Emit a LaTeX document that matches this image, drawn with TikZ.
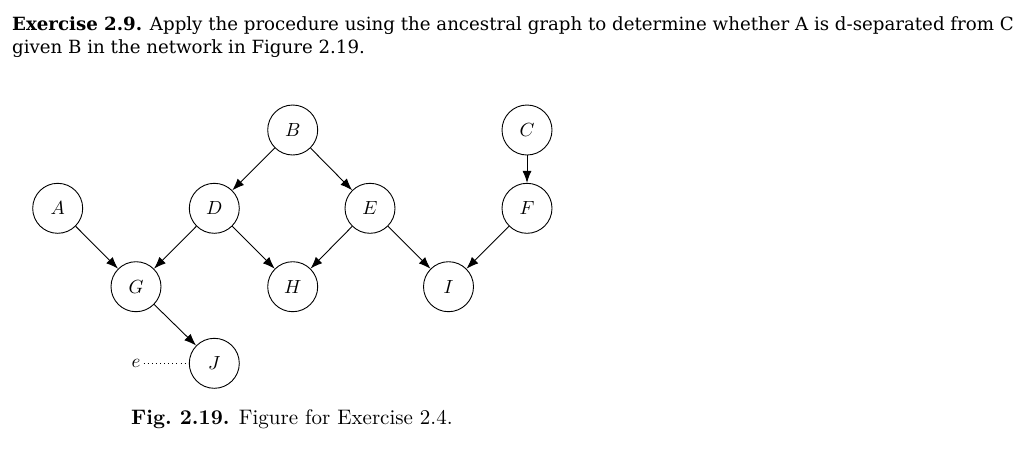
\documentclass[tikz,border=0pt]{standalone}
\usepackage{fontspec}
\setmainfont{DejaVu Serif}
\newfontfamily\capfont{Latin Modern Roman}
\usetikzlibrary{arrows.meta}
\newcommand{\lbl}[1]{\scalebox{1.9}{\fontsize{10}{12}\selectfont$#1$}}
\tikzset{
  var/.style={circle,draw,line width=0.9pt,minimum size=50pt,inner sep=0pt},
  edge/.style={line width=0.9pt,-{Latex[length=12pt,width=9pt]}},
  head/.style={anchor=base west,inner sep=0pt,font=\fontsize{18.2}{21}\selectfont}
}
\begin{document}
\begin{tikzpicture}[x=1pt,y=-1pt]
\useasboundingbox (0,0) rectangle (1024,448);
\node[head] (h1) at (12,30) {\textbf{Exercise 2.9.} Apply the procedure using the ancestral graph to determine whether A is d-separated from C};
\node[head] (h2) at (12,53.3) {given B in the network in Figure 2.19.};
\node[var] (B) at (292.7,130) {\lbl{B}};
\node[var] (C) at (527,130) {\lbl{C}};
\node[var] (A) at (57.7,208.3) {\lbl{A}};
\node[var] (D) at (214.3,208.3) {\lbl{D}};
\node[var] (E) at (370,208.3) {\lbl{E}};
\node[var] (F) at (527,208.3) {\lbl{F}};
\node[var] (G) at (136,286.7) {\lbl{G}};
\node[var] (H) at (292.7,286.7) {\lbl{H}};
\node[var] (I) at (448.5,286.7) {\lbl{I}};
\node[var] (J) at (214.3,363.3) {\lbl{J}};
\node[inner sep=3pt] (e) at (136,363.3) {\lbl{e}};
\draw[edge] (B) -- (D);
\draw[edge] (B) -- (E);
\draw[edge] (A) -- (G);
\draw[edge] (D) -- (G);
\draw[edge] (D) -- (H);
\draw[edge] (E) -- (H);
\draw[edge] (E) -- (I);
\draw[edge] (F) -- (I);
\draw[edge] (C) -- (F);
\draw[edge] (G) -- (J);
\draw[line width=0.9pt,dash pattern=on 0.9pt off 3.2pt] (e) -- (J);
\node[anchor=base west,inner sep=0pt] (cap) at (131,424) {\scalebox{2.10}{\capfont\fontsize{10}{12}\selectfont\textbf{Fig.\ 2.19.} Figure for Exercise 2.4.}};
\end{tikzpicture}
\end{document}
